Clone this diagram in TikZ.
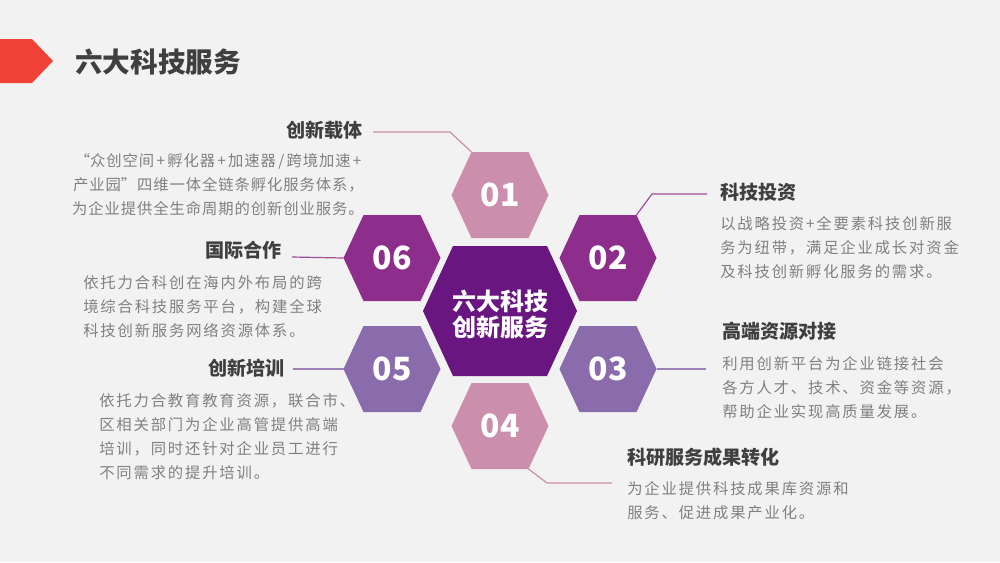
\documentclass[tikz,border=0pt]{standalone}
\usepackage{fontspec}
\setmainfont{Noto Sans CJK SC}
\newfontfamily\bodyfont[LetterSpace=12]{Noto Sans CJK SC}
\newfontfamily\bodyfontb[LetterSpace=6]{Noto Sans CJK SC}
\definecolor{bgc}{HTML}{F2F2F2}
\definecolor{redc}{HTML}{EF4136}
\definecolor{titlec}{HTML}{3F3F3F}
\definecolor{headc}{HTML}{3F3F3F}
\definecolor{bodyc}{HTML}{808080}
\definecolor{pinkc}{HTML}{CB8FAD}
\definecolor{magc}{HTML}{8E2E8C}
\definecolor{lavc}{HTML}{8A6BAB}
\definecolor{deepc}{HTML}{6A1680}
\newcommand\hexshape[7]{%
  \coordinate (#1-l) at ({#2-#4},#3);
  \coordinate (#1-r) at ({#2+#4},#3);
  \coordinate (#1-tl) at ({#2-#6},{#3-#5});
  \coordinate (#1-tr) at ({#2+#6},{#3-#5});
  \coordinate (#1-bl) at ({#2-#6},{#3+#5});
  \coordinate (#1-br) at ({#2+#6},{#3+#5});
  \fill[#7] (#1-l) -- (#1-tl) -- (#1-tr) -- (#1-r) -- (#1-br) -- (#1-bl) -- cycle;
}
\newcommand\myLq{\makebox[1.05em][r]{“}}
\newcommand\myRq{\makebox[1.05em][l]{”}}
\newcommand\mySym[1]{\kern1.7pt#1\kern1.7pt}
\begin{document}
\begin{tikzpicture}[x=0.75pt,y=-0.75pt,
  hexnum/.style={text=white,font=\bfseries\fontsize{24}{24}\selectfont,inner sep=0pt},
  centertext/.style={text=white,font=\bfseries\fontsize{18}{19.5}\selectfont,inner sep=0pt,align=center},
  heading/.style={text=headc,font=\bfseries\fontsize{14.3}{16}\selectfont,inner sep=0pt},
  body/.style={text=bodyc,font=\bodyfont\fontsize{11.5}{18}\selectfont,inner sep=0pt},
  bodyb/.style={text=bodyc,font=\bodyfontb\fontsize{11.5}{18}\selectfont,inner sep=0pt},
  conn/.style={line width=0.9pt}]
\fill[bgc] (0,0) rectangle (1000,562);
\useasboundingbox (0,0) rectangle (1000,562);
% title
\fill[redc] (0,39) -- (32,39) -- (53,61) -- (32,83) -- (0,83) -- cycle;
\node[anchor=west,inner sep=0pt,text=titlec,font=\bfseries\fontsize{20.7}{22}\selectfont] (title) at (75,62) {六大科技服务};
% hexagons
\hexshape{h1}{500}{195}{48.5}{43}{28.5}{pinkc}
\hexshape{h2}{608}{258}{48.5}{43}{28.5}{magc}
\hexshape{h3}{608}{369}{48.5}{43}{28.5}{lavc}
\hexshape{h4}{500}{426}{48.5}{43}{28.5}{pinkc}
\hexshape{h5}{392}{369}{48.5}{43}{28.5}{lavc}
\hexshape{h6}{392}{258}{48.5}{43}{28.5}{magc}
\hexshape{hc}{500}{311}{77}{65}{47}{deepc}
\node[hexnum] (n1) at (500,195) {01};
\node[hexnum] (n2) at (608,258) {02};
\node[hexnum] (n3) at (608,369) {03};
\node[hexnum] (n4) at (500,426) {04};
\node[hexnum] (n5) at (392,369) {05};
\node[hexnum] (n6) at (392,258) {06};
\node[centertext] (nc) at (500,314.5) {六大科技\\创新服务};
% headings
\node[heading,anchor=east] (t1) at (363,130) {创新载体};
\node[heading,anchor=west] (t2) at (720,192) {科技投资};
\node[heading,anchor=west] (t3) at (722,331) {高端资源对接};
\node[heading,anchor=west] (t4) at (627,457) {科研服务成果转化};
\node[heading,anchor=east] (t5) at (285,368) {创新培训};
\node[heading,anchor=east] (t6) at (282,250) {国际合作};
% bodies
\node[bodyb,anchor=east,align=right] (b1) at (364,185) {\myLq 众创空间\mySym{+}孵化器\mySym{+}加速器\mySym{/}跨境加速\mySym{+}\\产业园\myRq 四维一体全链条孵化服务体系，\\为企业提供全生命周期的创新创业服务。};
\node[body,anchor=west,align=left] (b2) at (720,248) {以战略投资+全要素科技创新服\\务为纽带，满足企业成长对资金\\及科技创新孵化服务的需求。};
\node[body,anchor=west,align=left] (b3) at (722,388) {利用创新平台为企业链接社会\\各方人才、技术、资金等资源，\\帮助企业实现高质量发展。};
\node[body,anchor=west,align=left] (b4) at (627,501) {为企业提供科技成果库资源和\\服务、促进成果产业化。};
\node[body,anchor=west,align=left] (b5) at (99,436.5) {依托力合教育教育资源，联合市、\\区相关部门为企业高管提供高端\\培训，同时还针对企业员工进行\\不同需求的提升培训。};
\node[body,anchor=west,align=left] (b6) at (83,307) {依托力合科创在海内外布局的跨\\境综合科技服务平台，构建全球\\科技创新服务网络资源体系。};
% connectors
\coordinate (c1) at (373,132);
\coordinate (c2) at (707,194);
\coordinate (c3) at (706,369);
\coordinate (c4) at (612,483);
\coordinate (c5) at (293,369);
\coordinate (c6) at (292,257);
\draw[conn,pinkc] (h1-tl) -- (450,132) -- (c1);
\draw[conn,magc!85!white] (h2-tr) -- (652,194) -- (c2);
\draw[conn,lavc!85!white] (h3-r) -- (c3);
\draw[conn,pinkc] (h4-br) -- (547,483) -- (c4);
\draw[conn,lavc!85!white] (h5-l) -- (c5);
\draw[conn,magc!85!white] (h6-l) -- (c6);
\end{tikzpicture}
\end{document}
